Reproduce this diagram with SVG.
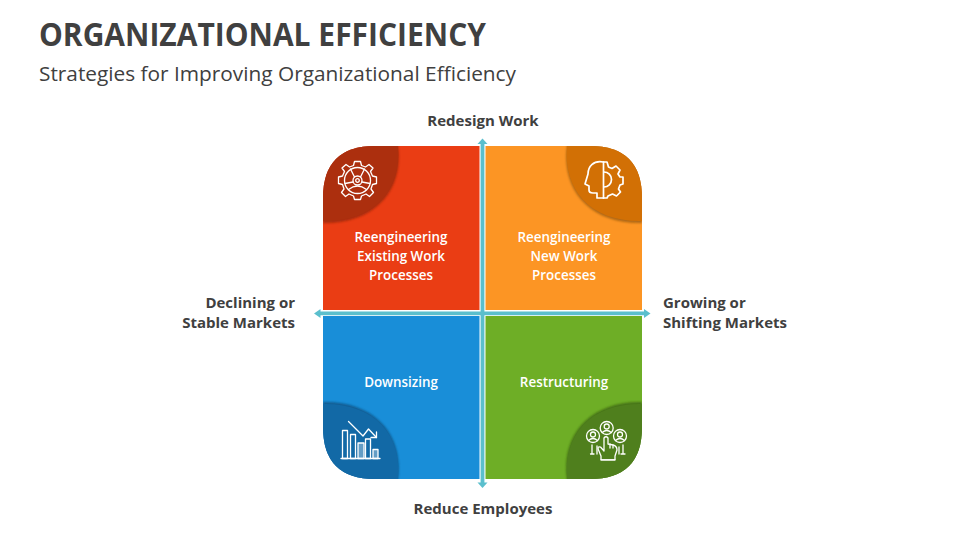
<svg xmlns="http://www.w3.org/2000/svg" width="960" height="540" viewBox="0 0 960 540">
<style>
text{font-family:"Open Sans","Liberation Sans",sans-serif}
.title{font-size:33px;font-weight:700;fill:#404040}
.sub{font-size:20px;fill:#404040}
.ax{font-size:15px;font-weight:700;fill:#404040}
.q{font-size:13.4px;font-weight:600;fill:#fff;text-anchor:middle}
.ic{fill:none;stroke:#fff;stroke-width:1.3;stroke-linejoin:round;stroke-linecap:round}
.thick{stroke-width:1.7}
.ln{fill:none;stroke:#5bbfcd;stroke-width:3.8}
.ah{fill:#5bbfcd}
</style>
<defs>
<filter id="sh" x="-20%" y="-20%" width="140%" height="140%"><feGaussianBlur stdDeviation="1.3"/></filter>
<clipPath id="cr"><path d="M479.500 146V310H323V198Q323 146 375 146Z"/></clipPath>
<clipPath id="co"><path d="M485.500 146V310H642V198Q642 146 590 146Z"/></clipPath>
<clipPath id="cb"><path d="M479.500 316V479H375Q323 479 323 427V316Z"/></clipPath>
<clipPath id="cg"><path d="M485.500 316V479H590Q642 479 642 427V316Z"/></clipPath>
</defs>
<rect width="960" height="540" fill="#fff"/>
<text class="title" x="39" y="46" textLength="447" lengthAdjust="spacingAndGlyphs">ORGANIZATIONAL EFFICIENCY</text>
<text class="sub" x="39" y="81" textLength="477" lengthAdjust="spacingAndGlyphs">Strategies for Improving Organizational Efficiency</text>

<g id="node-reengineering-existing">
<path d="M479.500 146V310H323V198Q323 146 375 146Z" fill="#ea3d14"/>
<g clip-path="url(#cr)">
<path d="M398 146C404 190 375 224 323 223V140H398Z" fill="#7a2408" opacity=".6" filter="url(#sh)"/>
<path d="M398 146C402 190 375 222 323 221V146Z" fill="#ac2f0e"/>
</g>
<g class="ic" transform="translate(357.500 180.500)">
<path d="M-3 -19L3 -19L4 -15L8 -13.500L11.500 -16L15.500 -12.500L13 -9L15 -4.500L19 -3.500V3L15 4L13.500 8.500L16 12L12 16L8.500 13.500L4 15.500L3 19H-3L-4 15.500L-8.500 13.500L-12 16L-16 12L-13.500 8.500L-15 4L-19 3V-3.500L-15 -4.500L-13 -9L-15.500 -12.500L-11.500 -16L-8 -13.500L-4 -15Z"/>
<circle r="13"/><circle r="4.500"/><circle r="1.800"/>
<path d="M-3 -3.500L-7 -11.500M3 -3.500L7 -11.500M-4.500 1.500L-12.500 3M4.500 1.500L12.500 3M-9 9Q0 2 9 9"/>
</g>
<text class="q" x="401" y="242">Reengineering</text>
<text class="q" x="401" y="261">Existing Work</text>
<text class="q" x="401" y="280">Processes</text>
</g>

<g id="node-reengineering-new">
<path d="M485.500 146V310H642V198Q642 146 590 146Z" fill="#fc9524"/>
<g clip-path="url(#co)">
<path d="M567 146C561 190 590 224 642 223V140H567Z" fill="#7a4a08" opacity=".6" filter="url(#sh)"/>
<path d="M567 146C563 190 590 222 642 221V146Z" fill="#d27005"/>
</g>
<g class="ic thick">
<path d="M603.500 162V198"/>
<path d="M603.500 162C593 160 588 167 588 174L585 184L589 186V190Q589 193 593 193H597V198H603.500"/>
<path d="M603.500 162H607L608.500 167L612 168.500L616 166L620 170L618 174L620 177H623V184L620 185L618.500 189L620.500 192L616.500 196L612.500 194L608 196L607 198H603.500"/>
<path d="M604 172A7.500 7.500 0 0 1 604 187"/>
</g>
<text class="q" x="564" y="242">Reengineering</text>
<text class="q" x="564" y="261">New Work</text>
<text class="q" x="564" y="280">Processes</text>
</g>

<g id="node-downsizing">
<path d="M479.500 316V479H375Q323 479 323 427V316Z" fill="#198ed8"/>
<g clip-path="url(#cb)">
<path d="M398 479C404 435 375 401 323 402V485H398Z" fill="#0a3a60" opacity=".6" filter="url(#sh)"/>
<path d="M398 479C402 435 375 403 323 404V479Z" fill="#1269a6"/>
</g>
<g class="ic">
<path d="M341 458.500H380"/>
<rect x="342.500" y="430.500" width="5" height="28"/>
<rect x="350.500" y="434.500" width="5" height="24"/>
<rect x="358" y="443" width="6" height="15.500" fill="#fff" fill-opacity=".35"/>
<rect x="365.500" y="439" width="5" height="19.500"/>
<rect x="373" y="449.500" width="5" height="9" fill="#fff" fill-opacity=".35"/>
<path d="M348.500 421.500L363 436L368.500 429L376.500 437.500"/>
<path d="M371 437.500H376.500V432"/>
</g>
<text class="q" x="401" y="387">Downsizing</text>
</g>

<g id="node-restructuring">
<path d="M485.500 316V479H590Q642 479 642 427V316Z" fill="#6eae26"/>
<g clip-path="url(#cg)">
<path d="M567 479C561 435 590 401 642 402V485H567Z" fill="#2c4a0c" opacity=".6" filter="url(#sh)"/>
<path d="M567 479C563 435 590 403 642 404V479Z" fill="#4f7f1d"/>
</g>
<g class="ic">
<circle cx="593" cy="436" r="6.500"/><circle cx="593" cy="434.500" r="2.500"/><path d="M588.500 440.500Q593 436.500 597.500 440.500"/>
<circle cx="606.700" cy="428" r="6.500"/><circle cx="606.700" cy="426.500" r="2.500"/><path d="M602.200 432.500Q606.700 428.500 611.200 432.500"/>
<circle cx="620" cy="436" r="6.500"/><circle cx="620" cy="434.500" r="2.500"/><path d="M615.500 440.500Q620 436.500 624.500 440.500"/>
<path d="M592 445V454M590.500 454H594M597 446V454M623 445V454M621 454H625M619 447V454"/>
<path d="M604 438V451L600.500 447Q597 446 598.500 450L601 456V459.800H615V456L617 450Q617 446 613 445L608 444V438Q606 435.500 604 438Z"/>
<path d="M601 459.800H615M610 444V448M613 445V448"/>
</g>
<text class="q" x="564" y="387">Restructuring</text>
</g>

<g id="connectors">
<path class="ln" d="M482.500 143V483"/>
<path class="ln" d="M320 313.400H645"/>
<path class="ah" d="M482.500 138.500L487.500 144H477.500Z"/>
<path class="ah" d="M482.500 488L487.500 482.500H477.500Z"/>
<path class="ah" d="M314 313.400L320.500 309V318Z"/>
<path class="ah" d="M650.500 313.400L644 309V318Z"/>
</g>

<g id="label-top"><text class="ax" x="483" y="125.500" text-anchor="middle">Redesign Work</text></g>
<g id="label-bottom"><text class="ax" x="483" y="513.500" text-anchor="middle">Reduce Employees</text></g>
<g id="label-left"><text class="ax" x="295" y="307.500" text-anchor="end">Declining or</text><text class="ax" x="295" y="327.500" text-anchor="end">Stable Markets</text></g>
<g id="label-right"><text class="ax" x="663" y="307.500">Growing or</text><text class="ax" x="663" y="327.500">Shifting Markets</text></g>
</svg>
